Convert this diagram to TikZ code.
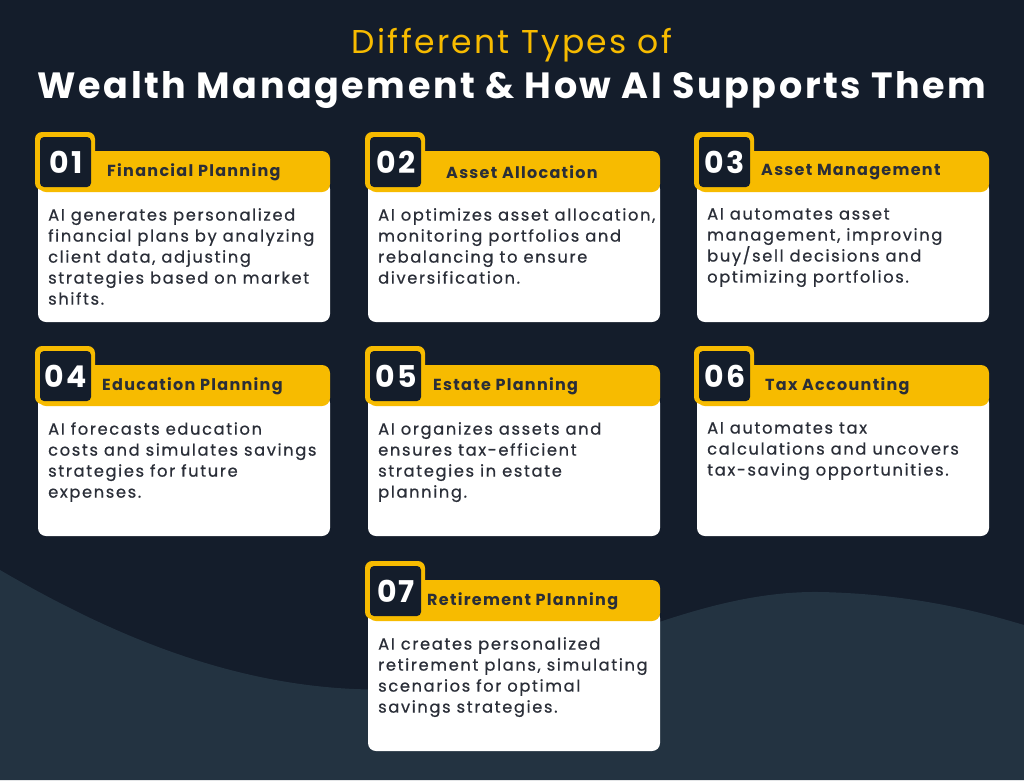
\documentclass[tikz,border=0pt]{standalone}
\usepackage{fontspec}
\setmainfont{Poppins}
\newfontfamily\bodyf[LetterSpace=10,FakeBold=0.6]{Poppins}
\newfontfamily\hdrf[LetterSpace=8]{Poppins}
\newfontfamily\titf[LetterSpace=7]{Poppins}
\definecolor{bg}{HTML}{141D2B}
\definecolor{wave}{HTML}{233341}
\definecolor{yel}{HTML}{F7BB00}
\definecolor{ink}{HTML}{2A2E38}
\tikzset{x=1pt,y=-1pt,
 hdr/.style={fill=yel,rounded corners=8pt},
 body/.style={fill=white,rounded corners=8pt},
 numout/.style={fill=yel,rounded corners=7pt},
 numin/.style={fill=bg,rounded corners=4pt},
 numtxt/.style={text=white,font=\hdrf\bfseries\fontsize{30}{31}\selectfont,inner sep=0},
 ttl/.style={text=ink,font=\hdrf\bfseries\fontsize{16}{18}\selectfont,anchor=west,inner sep=0},
 txt/.style={text=ink,font=\bodyf\fontsize{16.3}{21}\selectfont,anchor=north west,inner sep=0,align=left}}
\newcommand\wmcard[6]{%
 \fill[body] (#1,#2+30) rectangle (#1+292,#2+171);
 \fill[hdr] (#1,#2) rectangle (#1+292,#2+41);
 \fill[numout] (#1-3,#2-19) rectangle (#1+57,#2+39);
 \fill[numin] (#1+2,#2-14) rectangle (#1+53,#2+36);
 \node[numtxt] (n#3) at (#1+28,#2+11) {#3};
 \node[ttl] (t#3) at (#1+#5,#2+21.5) {#4};
 \node[txt] (b#3) at (#1+10,#2+57) {#6};}
\begin{document}
\begin{tikzpicture}
\fill[bg] (0,0) rectangle (1024,780);
\fill[wave] (0,570) .. controls (120,640) and (260,700) .. (420,688) .. controls (560,678) and (680,590) .. (820,592) .. controls (920,594) and (990,615) .. (1024,625) -- (1024,780) -- (0,780) -- cycle;
\node[text=yel,font=\titf\fontsize{33}{36}\selectfont] (title1) at (512,45) {Different Types of};
\node[text=white,font=\titf\bfseries\fontsize{36.5}{38}\selectfont] (title2) at (512,90) {Wealth Management \& How AI Supports Them};
\wmcard{38}{151}{01}{Financial Planning}{69}{AI generates personalized\\financial plans by analyzing\\client data, adjusting\\strategies based on market\\shifts.}
\wmcard{368}{151}{02}{Asset Allocation}{78}{AI optimizes asset allocation,\\monitoring portfolios and\\rebalancing to ensure\\diversification.}
\wmcard{697}{151}{03}{Asset Management}{64}{AI automates asset\\management, improving\\buy/sell decisions and\\optimizing portfolios.}
\wmcard{38}{365}{04}{Education Planning}{64}{AI forecasts education\\costs and simulates savings\\strategies for future\\expenses.}
\wmcard{368}{365}{05}{Estate Planning}{65}{AI organizes assets and\\ensures tax-efficient\\strategies in estate\\planning.}
\wmcard{697}{365}{06}{Tax Accounting}{68}{AI automates tax\\calculations and uncovers\\tax-saving opportunities.}
\wmcard{368}{580}{07}{Retirement Planning}{59}{AI creates personalized\\retirement plans, simulating\\scenarios for optimal\\savings strategies.}
\end{tikzpicture}
\end{document}
